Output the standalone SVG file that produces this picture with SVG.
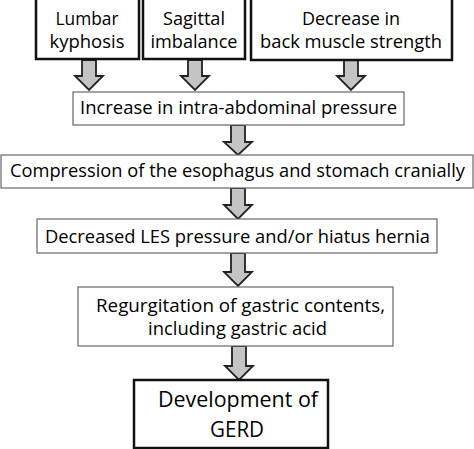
<svg xmlns="http://www.w3.org/2000/svg" width="474" height="449" viewBox="0 0 474 449">
<style>
text{font-family:"Open Sans","Liberation Sans",sans-serif;fill:#000;text-anchor:middle}
.t{font-size:18px}
.b{font-size:21px}
.thin{fill:#fff;stroke:#666;stroke-width:1.2}
.thick{fill:#fff;stroke:#111;stroke-width:2.5}
.arr{fill:#c4c4c4;stroke:#222;stroke-width:1.8;stroke-linejoin:miter}
</style>
<rect width="474" height="449" fill="#fff"/>
<g id="connectors">
<path class="arr" d="M82,60 H96 V76 H103 L89,90 L75,76 H82 Z"/>
<path class="arr" d="M188,60 H202 V76 H209 L195,90 L181,76 H188 Z"/>
<path class="arr" d="M344,60 H358 V76 H365 L351,90 L337,76 H344 Z"/>
<path class="arr" d="M231,125 H245 V142 H252 L238,155 L224,142 H231 Z"/>
<path class="arr" d="M231,188 H245 V205 H252 L238,219 L224,205 H231 Z"/>
<path class="arr" d="M231,253 H245 V272 H252 L238,286 L224,272 H231 Z"/>
<path class="arr" d="M232,346 H246 V366 H253 L239,380 L225,366 H232 Z"/>
</g>
<g id="lumbar">
<rect class="thick" x="36" y="-3" width="103" height="62"/>
<text class="t" x="87" y="25" textLength="63" lengthAdjust="spacingAndGlyphs">Lumbar</text>
<text class="t" x="87" y="48" textLength="75" lengthAdjust="spacingAndGlyphs">kyphosis</text>
</g>
<g id="sagittal">
<rect class="thick" x="143" y="-3" width="102" height="62"/>
<text class="t" x="194" y="25" textLength="62" lengthAdjust="spacingAndGlyphs">Sagittal</text>
<text class="t" x="194" y="48" textLength="87" lengthAdjust="spacingAndGlyphs">imbalance</text>
</g>
<g id="muscle">
<rect class="thick" x="251" y="-3" width="201" height="63"/>
<text class="t" x="351" y="25" textLength="98" lengthAdjust="spacingAndGlyphs">Decrease in</text>
<text class="t" x="351" y="48" textLength="182" lengthAdjust="spacingAndGlyphs">back muscle strength</text>
</g>
<g id="pressure">
<rect class="thin" x="73" y="92" width="331" height="33"/>
<text class="t" x="238.5" y="114" textLength="317" lengthAdjust="spacingAndGlyphs">Increase in intra-abdominal pressure</text>
</g>
<g id="compression">
<rect class="thin" x="1" y="155" width="472" height="33"/>
<text class="t" x="237.5" y="177" textLength="455" lengthAdjust="spacingAndGlyphs">Compression of the esophagus and stomach cranially</text>
</g>
<g id="les">
<rect class="thin" x="37" y="219" width="400" height="34"/>
<text class="t" x="237.5" y="243" textLength="385" lengthAdjust="spacingAndGlyphs">Decreased LES pressure and/or hiatus hernia</text>
</g>
<g id="regurgitation">
<rect class="thin" x="78" y="287" width="315" height="59"/>
<text class="t" x="240.5" y="312" textLength="289" lengthAdjust="spacingAndGlyphs">Regurgitation of gastric contents,</text>
<text class="t" x="237.5" y="335" textLength="179" lengthAdjust="spacingAndGlyphs">including gastric acid</text>
</g>
<g id="gerd">
<rect class="thick" x="134" y="380" width="194" height="68"/>
<text class="b" x="238" y="407" textLength="160" lengthAdjust="spacingAndGlyphs">Development of</text>
<text class="b" x="237" y="437" textLength="54" lengthAdjust="spacingAndGlyphs">GERD</text>
</g>
</svg>
